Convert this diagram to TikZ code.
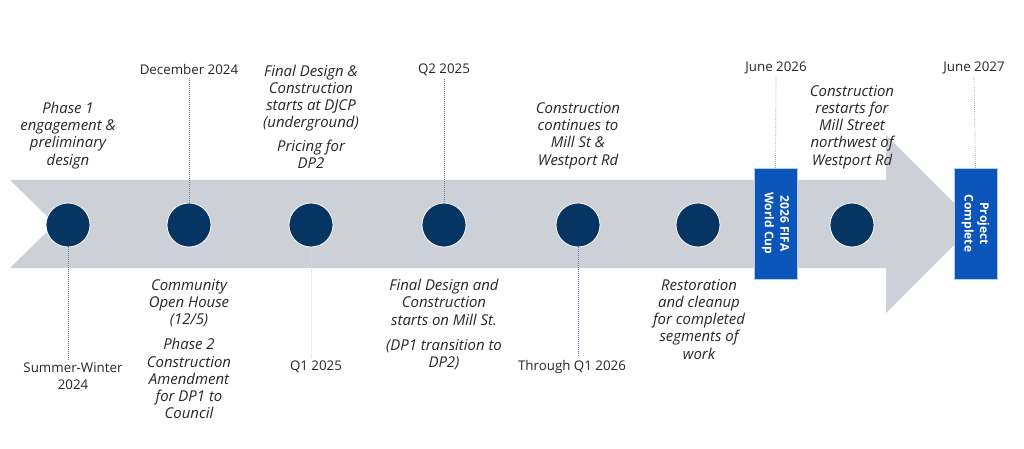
\documentclass[tikz,border=0pt]{standalone}
\usepackage{fontspec}
\setmainfont{Open Sans}
\usetikzlibrary{positioning}
\definecolor{bandgrey}{HTML}{CDD0D6}
\definecolor{navy}{HTML}{063564}
\definecolor{flagblue}{HTML}{0B55BA}
\definecolor{leaderblue}{HTML}{5E7FA3}
\definecolor{leaderfaint}{HTML}{D4D7DC}

\begin{document}
\begin{tikzpicture}[x=0.75pt,y=-0.75pt,font=\fontsize{10}{12.75}\selectfont,
  mstone/.style={circle,fill=navy,draw=white,line width=0.6pt,minimum size=33pt,inner sep=0pt},
  flag/.style={rectangle,fill=flagblue,draw=white!70!flagblue,line width=0.4pt,rotate=-90,
    minimum width=83.25pt,minimum height=32.25pt,inner sep=0pt,align=center,text=white,
    font=\fontsize{9}{11.5}\selectfont\bfseries},
  note/.style={font=\fontsize{11.2}{12.9}\selectfont\itshape,align=center,inner sep=0pt,text=black!85},
  when/.style={align=center,inner sep=2pt,text=black!85},
  leader/.style={leaderblue,densely dotted,line width=0.5pt}]
\useasboundingbox (0,0) rectangle (1024,449);
\fill[bandgrey] (10,180) -- (886,180) -- (886,135) -- (975,224) -- (886,313) -- (886,268) -- (10,268) -- (55,224) -- cycle;
% milestones on the band
\node[mstone] (c1) at (68,225) {};
\node[mstone] (c2) at (189,225) {};
\node[mstone] (c3) at (311,225) {};
\node[mstone] (c4) at (444,225) {};
\node[mstone] (c5) at (578,225) {};
\node[mstone] (c6) at (698,225) {};
\node[mstone] (c7) at (852,225) {};
\node[flag] (wc) at (775.5,223.5) {2026 FIFA\\World Cup};
\node[flag] (pc) at (975.5,223.5) {Project\\Complete};
% dates
\node[when] (d2) at (189,70) {December 2024};
\node[when] (d4) at (444,70) {Q2 2025};
\node[when] (jn26) at (776,68) {June 2026};
\node[when] (jn27) at (974,68) {June 2027};
\node[when] (sw) at (73,376) {Summer-Winter\\2024};
\node[when] (q1) at (316,367) {Q1 2025};
\node[when] (tq) at (572,367) {Through Q1 2026};
\draw[leader] (d2.south) -- (c2.north);
\draw[leader] (d4.south) -- (c4.north);
\draw[leader] (jn26.south) -- (wc.west);
\draw[leader] (jn27.south) -- (pc.west);
\draw[leader] (c1.south) -- (c1.south |- sw.north);
\draw[leader,leaderfaint] (c3.south) -- (c3.south |- q1.north);
\draw[leader] (c5.south) -- (c5.south |- tq.north);
% notes above
\node[note,anchor=south] (n1) at (68,169) {Phase 1\\engagement \&\\preliminary\\design};
\node[note,anchor=south] (n3) at (311,169) {Final Design \&\\Construction\\starts at DJCP\\(underground)\\[5pt]Pricing for\\DP2};
\node[note,anchor=south] (n5) at (578,169) {Construction\\continues to\\Mill St \&\\Westport Rd};
\node[note,anchor=south] (n7) at (852,169) {Construction\\restarts for\\Mill Street\\northwest of\\Westport Rd};
% notes below
\node[note,anchor=north] (n2) at (189,279) {Community\\Open House\\(12/5)\\[6pt]Phase 2\\Construction\\Amendment\\for DP1 to\\Council};
\node[note,anchor=north] (n4) at (444,279) {Final Design and\\Construction\\starts on Mill St.\\[6pt](DP1 transition to\\DP2)};
\node[note,anchor=north] (n6) at (699,279) {Restoration\\and cleanup\\for completed\\segments of\\work};
\end{tikzpicture}
\end{document}
